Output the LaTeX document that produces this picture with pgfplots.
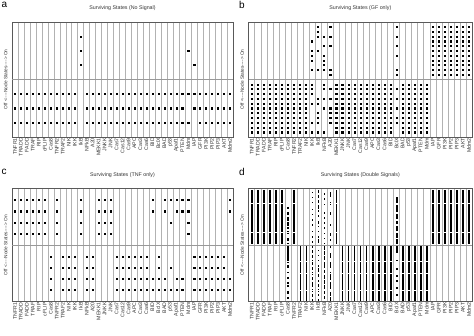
\documentclass[border=0pt]{standalone}
\usepackage{fontspec}
\setmainfont{Liberation Sans}
\usepackage{pgfplots}
\usepackage{pgfplotstable}
\pgfplotsset{compat=1.18}

% rows = nodes (TNFR1 ... Mdm2), columns = surviving states; 1 = On, 0 = Off
\pgfplotstableread[header=false]{
0 0 0
0 0 0
0 0 0
0 0 0
0 0 0
0 0 0
0 0 0
0 0 0
0 0 0
0 0 0
0 0 0
1 1 1
0 0 0
0 0 0
0 0 0
0 0 0
0 0 0
0 0 0
0 0 0
0 0 0
0 0 0
0 0 0
0 0 0
0 0 0
0 0 0
0 0 0
0 0 0
0 0 0
0 0 0
0 1 0
0 0 1
0 0 0
0 0 0
0 0 0
0 0 0
0 0 0
0 0 0
}\dataA

\pgfplotstableread[header=false]{
0 0 0 0 0 0 0 0 0 0 0
0 0 0 0 0 0 0 0 0 0 0
0 0 0 0 0 0 0 0 0 0 0
0 0 0 0 0 0 0 0 0 0 0
0 0 0 0 0 0 0 0 0 0 0
0 0 0 0 0 0 0 0 0 0 0
0 0 0 0 0 0 0 0 0 0 0
0 0 0 0 0 0 0 0 0 0 0
0 0 0 0 0 0 0 0 0 0 0
0 0 0 0 0 0 0 0 0 0 0
0 0 0 1 0 1 1 1 0 1 0
1 1 1 0 0 1 0 0 0 1 0
0 0 1 0 1 0 1 1 1 1 0
1 0 1 0 1 0 0 0 0 1 1
0 0 0 0 0 0 0 0 0 0 0
0 0 0 0 0 0 0 0 0 0 0
0 0 0 0 0 0 0 0 0 0 0
0 0 0 0 0 0 0 0 0 0 0
0 0 0 0 0 0 0 0 0 0 0
0 0 0 0 0 0 0 0 0 0 0
0 0 0 0 0 0 0 0 0 0 0
0 0 0 0 0 0 0 0 0 0 0
0 0 0 0 0 0 0 0 0 0 0
0 0 0 0 0 0 0 0 0 0 0
1 0 1 0 1 0 1 0 0 1 1
0 0 0 0 0 0 0 0 0 0 0
0 0 0 0 0 0 0 0 0 0 0
0 0 0 0 0 0 0 0 0 0 0
0 0 0 0 0 0 0 0 0 0 0
0 0 0 0 0 0 0 0 0 0 0
1 1 1 1 1 1 1 1 1 1 1
1 1 1 1 1 1 1 1 1 1 1
1 1 1 1 1 1 1 1 1 1 1
1 1 1 1 1 1 1 1 1 1 1
1 1 1 1 1 1 1 1 1 1 1
1 1 1 1 1 1 1 1 1 1 1
1 1 1 1 1 1 1 1 1 1 1
}\dataB

\pgfplotstableread[header=false]{
1 1 1 1
1 1 1 1
1 1 1 1
1 1 1 1
1 1 1 1
1 1 1 1
0 0 0 0
1 1 1 1
0 0 0 0
0 0 0 0
0 0 0 0
1 1 1 1
0 0 0 0
0 0 0 0
1 1 1 1
1 1 1 1
1 1 1 1
0 0 0 0
0 0 0 0
0 0 0 0
0 0 0 0
0 0 0 0
0 0 0 0
1 1 0 0
0 0 0 0
1 1 0 0
1 0 1 0
1 1 0 0
1 1 0 0
1 1 1 1
0 0 0 0
0 0 0 0
0 0 0 0
0 0 0 0
0 0 0 0
0 0 0 0
1 1 0 0
}\dataC

\pgfplotstableread[header=false]{
1 1 1 1 1 1 1 1 1 1 1 1 1 1 1 1 1 1 1 1 1 1 1 1 1 1 1 1 1 1 1 1
1 1 1 1 1 1 1 1 1 1 1 1 1 1 1 1 1 1 1 1 1 1 1 1 1 1 1 1 1 1 1 1
1 1 1 1 1 1 1 1 1 1 1 1 1 1 1 1 1 1 1 1 1 1 1 1 1 1 1 1 1 1 1 1
1 1 1 1 1 1 1 1 1 1 1 1 1 1 1 1 1 1 1 1 1 1 1 1 1 1 1 1 1 1 1 1
1 1 1 1 1 1 1 1 1 1 1 1 1 1 1 1 1 1 1 1 1 1 1 1 1 1 1 1 1 1 1 1
1 1 1 1 1 1 1 1 1 1 1 1 1 1 1 1 1 1 1 1 1 1 1 1 1 1 1 1 1 1 1 1
0 0 0 0 0 0 0 0 0 0 1 0 0 1 1 0 1 1 0 1 1 0 1 0 1 1 0 0 1 1 0 1
1 1 1 1 1 1 1 1 1 1 1 1 1 1 1 1 1 1 1 1 1 1 1 1 1 1 1 1 1 1 1 1
0 0 0 0 0 0 0 0 0 0 0 0 0 0 0 0 0 0 0 0 0 0 0 0 0 0 0 0 0 0 0 0
0 0 0 0 0 0 0 0 0 0 0 0 0 0 0 0 0 0 0 0 0 0 0 0 0 0 0 0 0 0 0 0
0 1 0 0 1 0 0 1 0 0 0 1 0 0 1 0 0 1 0 0 1 0 0 0 1 0 0 1 0 0 1 0
1 1 0 1 1 0 1 1 0 1 1 0 1 0 0 1 0 0 1 1 0 1 0 0 1 0 0 1 0 1 1 0
0 0 1 0 0 1 0 0 1 0 0 0 0 1 0 0 1 0 0 1 0 0 1 0 0 1 0 0 1 0 0 1
0 1 1 1 0 0 0 1 1 0 0 0 0 1 1 0 0 0 0 0 1 0 0 0 0 1 1 0 0 1 0 0
1 1 1 1 1 1 1 1 1 1 1 1 1 1 1 1 1 1 1 1 1 1 1 1 1 1 1 1 1 1 1 1
0 0 0 0 0 0 0 0 0 0 0 0 0 0 0 0 0 0 0 0 0 0 0 0 0 0 0 0 0 0 0 0
0 0 0 0 0 0 0 0 0 0 0 0 0 0 0 0 0 0 0 0 0 0 0 0 0 0 0 0 0 0 0 0
0 0 0 0 0 0 0 0 0 0 0 0 0 0 0 0 0 0 0 0 0 0 0 0 0 0 0 0 0 0 0 0
0 0 0 0 0 0 0 0 0 0 0 0 0 0 0 0 0 0 0 0 0 0 0 0 0 0 0 0 0 0 0 0
0 0 0 0 0 0 0 0 0 0 0 0 0 0 0 0 0 0 0 0 0 0 0 0 0 0 0 0 0 0 0 0
0 0 0 0 0 0 0 0 0 0 0 0 0 0 0 0 0 0 0 0 0 0 0 0 0 0 0 0 0 0 0 0
0 0 0 0 0 0 0 0 0 0 0 0 0 0 0 0 0 0 0 0 0 0 0 0 0 0 0 0 0 0 0 0
0 0 0 0 0 0 0 0 0 0 0 0 0 0 0 0 0 0 0 0 0 0 0 0 0 0 0 0 0 0 0 0
0 0 0 0 0 0 0 0 0 0 0 0 0 0 0 0 0 0 0 0 0 0 0 0 0 0 0 0 0 0 0 0
0 0 0 0 1 1 1 1 0 1 1 1 1 0 1 1 1 0 1 1 0 1 1 1 0 1 1 1 0 1 1 1
0 0 0 0 0 0 0 0 0 0 0 0 0 0 0 0 0 0 0 0 0 0 0 0 0 0 0 0 0 0 0 0
0 0 0 0 0 0 0 0 0 0 0 0 0 0 0 0 0 0 0 0 0 0 0 0 0 0 0 0 0 0 0 0
0 0 0 0 0 0 0 0 0 0 0 0 0 0 0 0 0 0 0 0 0 0 0 0 0 0 0 0 0 0 0 0
0 0 0 0 0 0 0 0 0 0 0 0 0 0 0 0 0 0 0 0 0 0 0 0 0 0 0 0 0 0 0 0
0 0 0 0 0 0 0 0 0 0 0 0 0 0 0 0 0 0 0 0 0 0 0 0 0 0 0 0 0 0 0 0
1 1 1 1 1 1 1 1 1 1 1 1 1 1 1 1 1 1 1 1 1 1 1 1 1 1 1 1 1 1 1 1
1 1 1 1 1 1 1 1 1 1 1 1 1 1 1 1 1 1 1 1 1 1 1 1 1 1 1 1 1 1 1 1
1 1 1 1 1 1 1 1 1 1 1 1 1 1 1 1 1 1 1 1 1 1 1 1 1 1 1 1 1 1 1 1
1 1 1 1 1 1 1 1 1 1 1 1 1 1 1 1 1 1 1 1 1 1 1 1 1 1 1 1 1 1 1 1
1 1 1 1 1 1 1 1 1 1 1 1 1 1 1 1 1 1 1 1 1 1 1 1 1 1 1 1 1 1 1 1
1 1 1 1 1 1 1 1 1 1 1 1 1 1 1 1 1 1 1 1 1 1 1 1 1 1 1 1 1 1 1 1
1 1 1 1 1 1 1 1 1 1 1 1 1 1 1 1 1 1 1 1 1 1 1 1 1 1 1 1 1 1 1 1
}\dataD

\pgfplotsset{
 panel/.style={
  scale only axis,
  xmin=0, xmax=37, ymin=0, ymax=2,
  axis line style={draw=black!65, line width=0.9pt},
  xtick={0.5,1.5,...,36.5},
  xticklabels={TNFR1,TRADD,FADD,TRAF,RIP,cFLIP,Cas8,TNFR2,TRAF2,NIK,IKK,IkB,NFkB,A20,MEKK1,JNKK,JNK,Cas7,Cas12,Cas9,APC,Cas3,Cas6,BID,BclX,BAD,p53,Apaf1,PTEN,Mdm,IAP,GFR,PI3K,PIP2,PIP3,AKT,Mdm2},
  xticklabel style={rotate=90, anchor=east, font=\fontsize{5.2}{5.2}\selectfont, inner sep=1pt, text=black!80},
  major tick length=0pt,
  minor xtick={1,...,36},
  minor tick length=0pt,
  xminorgrids=true,
  minor grid style={black!30, line width=0.5pt},
  ytick=\empty,
  extra y ticks={1},
  extra y tick labels={},
  extra y tick style={grid=major, major grid style={black!40, line width=0.5pt}},
  ylabel={Off <-\kern0pt-\kern0pt-\kern0pt-Node States-\kern0pt-\kern0pt-\kern0pt-> On},
  ylabel style={font=\fontsize{4.8}{4.8}\selectfont, at={(axis description cs:-0.02,0.5)}, anchor=south, inner sep=0pt, text=black!80},
  title style={font=\fontsize{5.3}{5.3}\selectfont, at={(axis description cs:0.5,1)}, anchor=south, inner sep=0pt, yshift=5pt, text=black!80},
  clip=false,
 },
 dots/.style={only marks, mark=square*, mark size=0.55pt, mark options={draw=none, fill=black}, black},
 smalldots/.style={only marks, mark=square*, mark size=0.3pt, mark options={draw=none, fill=black}, black},
}

\begin{document}
\begin{tikzpicture}
\useasboundingbox (0,0) rectangle (474pt,335pt);

\begin{axis}[panel, width=221pt, height=115pt, at={(12pt,313pt)}, anchor=north west,
  title={Surviving States (No Signal)}]
\pgfplotsinvokeforeach{0,...,2}{
  \addplot[dots] table[x expr=\coordindex+0.5, y expr={\thisrowno{#1}+1-(#1+1)/4}]{\dataA};
}
\end{axis}

\begin{axis}[panel, width=223.3pt, height=115pt, at={(248.7pt,313pt)}, anchor=north west,
  title={Surviving States (GF only)}]
\pgfplotsinvokeforeach{0,...,10}{
  \addplot[dots] table[x expr=\coordindex+0.5, y expr={\thisrowno{#1}+1-(#1+1)/12}]{\dataB};
}
\end{axis}

\begin{axis}[panel, width=221pt, height=112.6pt, at={(12pt,146.3pt)}, anchor=north west,
  title={Surviving States (TNF only)}]
\pgfplotsinvokeforeach{0,...,3}{
  \addplot[dots] table[x expr=\coordindex+0.5, y expr={\thisrowno{#1}+1-(#1+1)/5}]{\dataC};
}
\end{axis}

\begin{axis}[panel, width=223.3pt, height=112.6pt, at={(248.7pt,146.3pt)}, anchor=north west,
  title={Surviving States (Double Signals)}]
\pgfplotsinvokeforeach{0,...,31}{
  \addplot[smalldots] table[x expr=\coordindex+0.5, y expr={\thisrowno{#1}+1-(#1+1)/33}]{\dataD};
}
\end{axis}

\node[anchor=north west, inner sep=0pt, font=\fontsize{10}{10}\selectfont] at (1.5pt,333pt) {a};
\node[anchor=north west, inner sep=0pt, font=\fontsize{10}{10}\selectfont] at (239pt,334pt) {b};
\node[anchor=north west, inner sep=0pt, font=\fontsize{10}{10}\selectfont] at (1.5pt,166.5pt) {c};
\node[anchor=north west, inner sep=0pt, font=\fontsize{10}{10}\selectfont] at (239pt,167pt) {d};
\end{tikzpicture}
\end{document}
